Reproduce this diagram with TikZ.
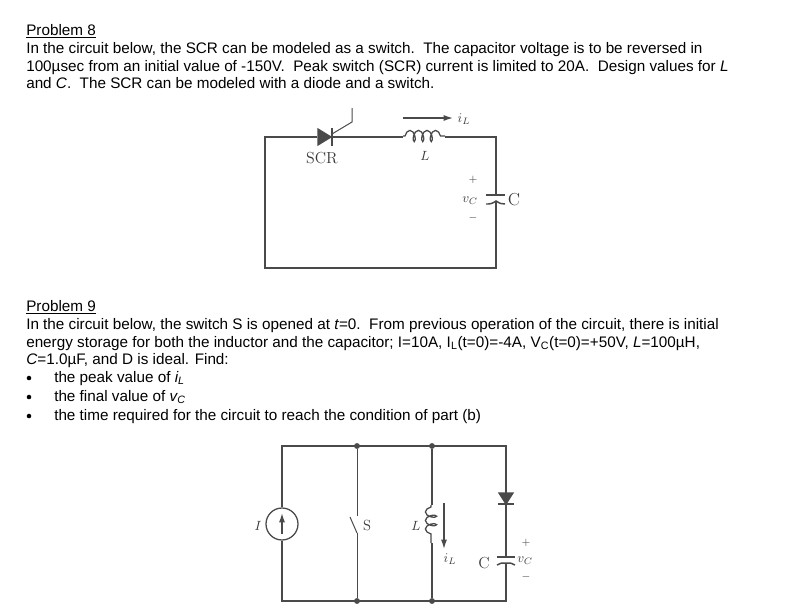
\documentclass[tikz,border=0pt]{standalone}
\usepackage{fontspec}
\setsansfont{Liberation Sans}
\usepackage{xcolor}
\usepackage{tikz}
\usetikzlibrary{decorations.pathmorphing, arrows.meta}
\definecolor{wirecol}{HTML}{4A4A4A}
\definecolor{labelcol}{HTML}{3A3A3A}
\tikzset{
	txt/.style={anchor=base west, inner sep=0pt, font=\sffamily\fontsize{11.45}{13}\selectfont, text=black},
	pt/.style={minimum size=0mm, inner sep=0pt},
	lab/.style={inner sep=0pt, text=labelcol, font=\fontsize{10}{11}\selectfont},
	sgn/.style={inner sep=0pt, text=labelcol, font=\fontsize{8}{8}\selectfont},
	wire/.style={draw=wirecol, line width=0.95pt},
	thin wire/.style={draw=wirecol, line width=0.75pt},
	plate/.style={draw=wirecol, line width=1.1pt},
	coilh/.style={wire, decorate, decoration={coil, aspect=0.5, segment length=6.4pt, amplitude=4.2pt, pre length=1.5pt, post length=1.5pt}},
	coilv/.style={wire, decorate, decoration={coil, mirror, aspect=0.5, segment length=6.4pt, amplitude=4.2pt, pre length=1.5pt, post length=1.5pt}},
	tip/.style={-{Latex[length=7pt, width=4.5pt]}, draw=wirecol, line width=1pt},
	dot/.style={circle, fill=wirecol, minimum size=4.4pt, inner sep=0pt},
	blt/.style={circle, fill=black, minimum size=3.4pt, inner sep=0pt}
}
\begin{document}
\begin{tikzpicture}[x=0.75pt, y=-0.75pt]
		\useasboundingbox (0, 0) rectangle (808, 615);
		% Text
		%% Problem 8
		\node[txt] (h8) at (26, 35) {\underline{Problem 8}};
		\node[txt] (p8a) at (26, 53) {In the circuit below, the SCR can be modeled as a switch.\ \ The capacitor voltage is to be reversed in};
		\node[txt] (p8b) at (26, 71) {100µsec from an initial value of -150V.\ \ Peak switch (SCR) current is limited to 20A.\ \ Design values for \textit{L}};
		\node[txt] (p8c) at (26, 88) {and \textit{C}.\ \ The SCR can be modeled with a diode and a switch.};
		%% Problem 9
		\node[txt] (h9) at (26, 311) {\underline{Problem 9}};
		\node[txt] (p9a) at (26, 329) {In the circuit below, the switch S is opened at \textit{t}=0.\ \ From previous operation of the circuit, there is initial};
		\node[txt] (p9b) at (26, 347) {energy storage for both the inductor and the capacitor; I=10A, I\textsubscript{L}(t=0)=-4A, V\textsubscript{C}(t=0)=+50V, \textit{L}=100µH,};
		\node[txt] (p9c) at (26, 364) {\textit{C}=1.0µF, and D is ideal. Find:};
		\node[blt] (b1) at (29, 378) {};
		\node[txt] (p9d) at (54, 382) {the peak value of \textit{i\textsubscript{L}}};
		\node[blt] (b2) at (29, 397) {};
		\node[txt] (p9e) at (54, 401) {the final value of \textit{v\textsubscript{C}}};
		\node[blt] (b3) at (29, 416) {};
		\node[txt] (p9f) at (54, 420) {the time required for the circuit to reach the condition of part (b)};
		% Picture nodes
		%% SCR circuit
		\node[pt] (A) at (265, 137) {};
		\node[pt] (Da) at (317, 137) {};
		\node[pt] (Dt) at (318, 129) {};
		\node[pt] (Db) at (318, 145) {};
		\node[pt] (Dk) at (331, 137) {};
		\node[pt] (Kt) at (332, 128) {};
		\node[pt] (Kb) at (332, 146) {};
		\node[pt] (Gi) at (332, 134) {};
		\node[pt] (Gii) at (352, 122) {};
		\node[pt] (Giii) at (352, 108) {};
		\node[pt] (Lw) at (403, 137) {};
		\node[pt] (La) at (403, 136) {};
		\node[pt] (Lb) at (445, 136) {};
		\node[pt] (Le) at (445, 137) {};
		\node[pt] (B) at (496, 137) {};
		\node[pt] (Ca) at (496, 195) {};
		\node[pt] (Cb) at (496, 202) {};
		\node[pt] (Cal) at (486, 195) {};
		\node[pt] (Car) at (505, 195) {};
		\node[pt] (Cbl) at (486, 204) {};
		\node[pt] (Cbm) at (496, 201) {};
		\node[pt] (Cbr) at (505, 204) {};
		\node[pt] (E) at (496, 268) {};
		\node[pt] (F) at (265, 268) {};
		\node[pt] (Ia) at (403, 118) {};
		\node[pt] (Ib) at (453, 118) {};
		%%% Labels
		\node[lab] (iL) at (464, 119) {$i_L$};
		\node[lab] (scr) at (322, 158) {\fontsize{12}{13}\selectfont SCR};
		\node[lab] (Ltxt) at (425, 156) {$L$};
		\node[sgn] (plus) at (473, 180) {$+$};
		\node[lab] (vC) at (470, 201) {$v_C$};
		\node[sgn] (minus) at (473, 218) {$-$};
		\node[lab] (Ctxt) at (514, 200) {\fontsize{13}{14}\selectfont C};
		%% Switch circuit
		\node[pt] (A') at (282, 446) {};
		\node[dot] (T1) at (357, 446) {};
		\node[dot] (T2) at (432, 446) {};
		\node[pt] (B') at (506, 446) {};
		\node[pt] (F') at (282, 601) {};
		\node[dot] (U1) at (357, 601) {};
		\node[dot] (U2) at (432, 601) {};
		\node[pt] (E') at (506, 601) {};
		\node[circle, draw=wirecol, line width=0.95pt, minimum size=24pt, inner sep=0pt] (Isrc) at (282, 524) {};
		\node[pt] (Ai) at (282, 534) {};
		\node[pt] (Aii) at (282, 513) {};
		\node[pt] (Si) at (357, 516) {};
		\node[pt] (Sii) at (357, 533) {};
		\node[pt] (Siii) at (350, 517) {};
		\node[pt] (Lw') at (432, 505) {};
		\node[pt] (La') at (431, 505) {};
		\node[pt] (Lb') at (431, 543) {};
		\node[pt] (Le') at (432, 543) {};
		\node[pt] (Ia') at (444, 503) {};
		\node[pt] (Ib') at (444, 549) {};
		\node[pt] (Dt') at (506, 504) {};
		\node[pt] (Dal) at (499, 493) {};
		\node[pt] (Dar) at (513, 493) {};
		\node[pt] (Dm') at (506, 493) {};
		\node[pt] (Kl') at (498, 504) {};
		\node[pt] (Kr') at (514, 504) {};
		\node[pt] (Ca') at (506, 557) {};
		\node[pt] (Cb') at (506, 563) {};
		\node[pt] (Cal') at (497, 557) {};
		\node[pt] (Car') at (515, 557) {};
		\node[pt] (Cbl') at (497, 565) {};
		\node[pt] (Cbr') at (515, 565) {};
		%%% Labels
		\node[lab] (Itxt) at (258, 526) {$I$};
		\node[lab] (Stxt) at (367, 525) {\fontsize{11}{12}\selectfont S};
		\node[lab] (Ltxt') at (416, 526) {$L$};
		\node[lab] (iL') at (450, 559) {$i_L$};
		\node[lab] (Ctxt') at (484, 563) {\fontsize{12}{13}\selectfont C};
		\node[lab] (vC') at (525, 561) {$v_C$};
		\node[sgn] (plus') at (526, 543) {$+$};
		\node[sgn] (minus') at (526, 577) {$-$};
		% Picture arcs
		%% SCR circuit edges
		\draw[wire] (Da.center) to (A.center) to (F.center) to (E.center) to (Cb.center);
		\draw[wire] (Dk.center) to (Lw.center);
		\draw[coilh] (La.center) to (Lb.center);
		\draw[wire] (Le.center) to (B.center) to (Ca.center);
		\draw[wire, fill=wirecol] (Dt.center) to (Dk.center) to (Db.center) to cycle;
		\draw[wire] (Kt.center) to (Kb.center);
		\draw[thin wire] (Gi.center) to (Gii.center) to (Giii.center);
		\draw[plate] (Cal.center) to (Car.center);
		\draw[plate] (Cbl.center) to[bend right=20] (Cbm.center) to[bend right=20] (Cbr.center);
		\draw[tip] (Ia.center) to (Ib.center);
		%% Switch circuit edges
		\draw[wire] (Isrc.north) to (A'.center) to (B'.center) to (Dm'.center);
		\draw[wire] (Isrc.south) to (F'.center) to (E'.center) to (Cb'.center);
		\draw[wire] (Dt'.center) to (Ca'.center);
		\draw[tip] (Ai.center) to (Aii.center);
		\draw[thin wire] (T1) to (Si.center);
		\draw[thin wire] (U1) to (Sii.center);
		\draw[thin wire] (Sii.center) to (Siii.center);
		\draw[wire] (T2) to (Lw'.center);
		\draw[wire] (U2) to (Le'.center);
		\draw[coilv] (La'.center) to (Lb'.center);
		\draw[tip] (Ia'.center) to (Ib'.center);
		\draw[wire, fill=wirecol] (Dal.center) to (Dar.center) to (Dt'.center) to cycle;
		\draw[wire] (Kl'.center) to (Kr'.center);
		\draw[plate] (Cal'.center) to (Car'.center);
		\draw[plate] (Cbl'.center) to[bend left=20] (Cb'.center) to[bend left=20] (Cbr'.center);
	\end{tikzpicture}
\end{document}
